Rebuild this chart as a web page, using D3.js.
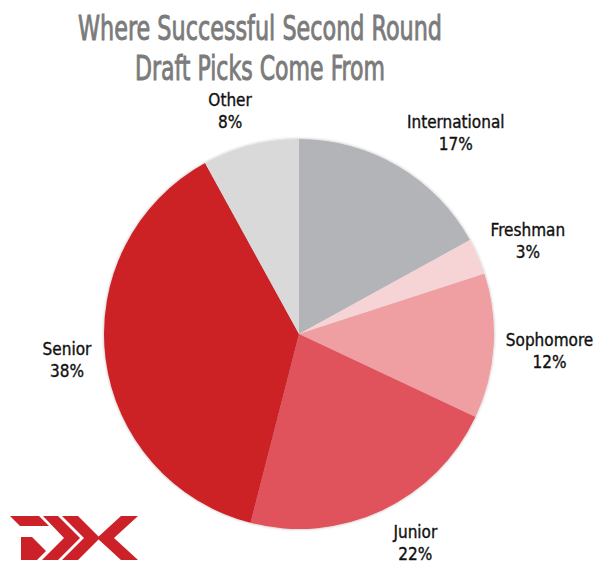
<!DOCTYPE html>
<html>
<head>
<meta charset="utf-8">
<script src="https://cdn.jsdelivr.net/npm/d3@7"></script>
<style>
  html, body { margin: 0; padding: 0; background: #ffffff; }
  svg { display: block; }
</style>
</head>
<body>
<div id="chart"></div>
<script>
// ---- Data ----
const categories = ["International", "Freshman", "Sophomore", "Junior", "Senior", "Other"];
const values = [17, 3, 12, 22, 38, 8];
const percentLabels = ["17%", "3%", "12%", "22%", "38%", "8%"];
const colors = ["#b3b4b8", "#f6d4d6", "#ef9ea2", "#e1535b", "#cc2128", "#d9d9d9"];
const titleLines = ["Where Successful Second Round", "Draft Picks Come From"];

// ---- Layout ----
const W = 600, H = 575;
const cx = 299, cy = 334, R = 195, labelR = 245;
const FONT = "'DejaVu Sans Condensed', 'Liberation Sans Narrow', sans-serif";
const labelNudge = {
  "International": [32, 9], "Freshman": [4, 4], "Sophomore": [6, 1],
  "Junior": [12, -13], "Senior": [11, -5], "Other": [-8, 14]
};

const svg = d3.select("#chart").append("svg")
  .attr("width", W).attr("height", H);

const defs = svg.append("defs");
const f = defs.append("filter").attr("id", "shadow")
  .attr("x", "-10%").attr("y", "-10%").attr("width", "120%").attr("height", "120%");
f.append("feDropShadow").attr("dx", 0).attr("dy", 0)
  .attr("stdDeviation", 1.6).attr("flood-color", "#000").attr("flood-opacity", 0.3);

// Title
const title = svg.append("g");
const titleWidths = [364, 250];
titleLines.forEach((t, i) => {
  title.append("text")
    .attr("x", 260).attr("y", 40 + i * 40)
    .attr("text-anchor", "middle")
    .attr("font-family", FONT)
    .attr("font-size", 34)
    .attr("font-weight", "normal")
    .attr("fill", "#7b7b7b")
    .attr("stroke", "#7b7b7b")
    .attr("stroke-width", 0.9)
    .attr("textLength", titleWidths[i])
    .attr("lengthAdjust", "spacingAndGlyphs")
    .text(t);
});

// Pie
const data = categories.map((c, i) => ({ name: c, value: values[i], pct: percentLabels[i], color: colors[i] }));
const pie = d3.pie().value(d => d.value).sort(null);
const arcs = pie(data);
const arc = d3.arc().innerRadius(0).outerRadius(R);
const labelArc = d3.arc().innerRadius(labelR).outerRadius(labelR);

const g = svg.append("g").attr("transform", `translate(${cx},${cy})`);
g.append("g").attr("filter", "url(#shadow)")
  .selectAll("path").data(arcs).join("path")
  .attr("d", arc)
  .attr("fill", d => d.data.color);

const labels = g.selectAll("g.label").data(arcs).join("g")
  .attr("class", "label")
  .attr("transform", d => {
    const [x, y] = labelArc.centroid(d);
    const n = labelNudge[d.data.name] || [0, 0];
    return `translate(${x + n[0]},${y + n[1]})`;
  });
[["name", -4.5], ["pct", 17.5]].forEach(([key, dy]) => {
  labels.append("text")
    .attr("y", dy)
    .attr("text-anchor", "middle")
    .attr("font-family", FONT)
    .attr("font-size", 17)
    .attr("fill", "#111")
    .attr("stroke", "#111")
    .attr("stroke-width", 0.35)
    .text(d => d.data[key]);
});

// Logo (DX mark)
const logo = svg.append("g").attr("fill", "#cc2128");
const logoShapes = [
  [[10,516],[39,516],[49,526],[20,526]],
  [[21,537],[32,537],[46,551],[37,560],[21,560]],
  [[43,516],[58,516],[80,538],[58,560],[42,560],[64,538]],
  [[62,516],[78,516],[100,538],[78,560],[62,560],[84,538]],
  [[121,516],[138,516],[114,538],[138,560],[121,560],[97,538]]
];
logo.selectAll("path").data(logoShapes).join("path")
  .attr("d", d => d3.line()(d) + "Z");
</script>
</body>
</html>
